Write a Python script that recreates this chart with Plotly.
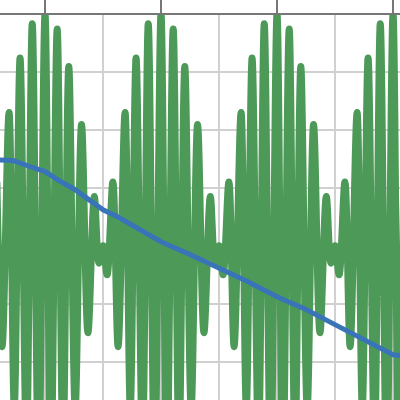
import plotly.graph_objects as go

# green signal: extrema (x in grid units, y in grid units)
sig_x = [-0.83, -0.74, -0.62, -0.53, -0.43, -0.32, -0.22, -0.11,
         0.0, 0.1, 0.21, 0.31, 0.41, 0.52, 0.63, 0.74, 0.85, 0.93, 1.0, 1.07,
         1.17, 1.26, 1.38, 1.47, 1.57, 1.68, 1.78, 1.89,
         2.0, 2.1, 2.21, 2.31, 2.41, 2.52, 2.63, 2.74, 2.85, 2.93, 3.0, 3.07,
         3.17, 3.26, 3.38, 3.47, 3.57, 3.68, 3.78, 3.89,
         4.0, 4.1, 4.21, 4.31, 4.41, 4.52, 4.63, 4.74, 4.85, 4.93, 5.0, 5.07,
         5.17, 5.26, 5.38, 5.47, 5.57, 5.68, 5.78, 5.89,
         6.0, 6.1, 6.21]
sig_y = [1.1, -1.74, 2.3, -2.8, 3.24, -3.5, 3.83, -3.95,
         4.0, -3.95, 3.74, -3.5, 3.09, -2.8, 2.09, -1.5, 0.85, -0.3, 0.0, -0.5,
         1.1, -1.74, 2.3, -2.8, 3.24, -3.5, 3.83, -3.95,
         4.0, -3.95, 3.74, -3.5, 3.09, -2.8, 2.09, -1.5, 0.85, -0.3, 0.0, -0.5,
         1.1, -1.74, 2.3, -2.8, 3.24, -3.5, 3.83, -3.95,
         4.0, -3.95, 3.74, -3.5, 3.09, -2.8, 2.09, -1.5, 0.85, -0.3, 0.0, -0.5,
         1.1, -1.74, 2.3, -2.8, 3.24, -3.5, 3.83, -3.95,
         4.0, -3.95, 3.74]

# blue trend line
trend_x = [-0.8, -0.55, -0.3, 0.0, 0.25, 0.5, 0.75, 1.0, 1.25, 1.5, 1.75, 2.0,
           2.5, 3.0, 3.5, 4.0, 4.5, 5.0, 5.5, 6.0, 6.2]
trend_y = [1.48, 1.47, 1.38, 1.28, 1.12, 0.98, 0.8, 0.62, 0.5, 0.36, 0.22, 0.07,
           -0.15, -0.38, -0.62, -0.88, -1.1, -1.36, -1.62, -1.88, -1.9]

fig = go.Figure()
fig.add_trace(go.Scatter(x=sig_x, y=sig_y, mode='lines',
                         line=dict(color='#4d9a58', width=7, shape='spline', smoothing=1.0)))
fig.add_trace(go.Scatter(x=trend_x, y=trend_y, mode='lines',
                         line=dict(color='#3a74b8', width=5)))

fig.update_layout(
    width=400, height=400,
    margin=dict(l=0, r=0, t=15, b=0),
    showlegend=False,
    plot_bgcolor='white', paper_bgcolor='white',
    xaxis=dict(range=[-0.776, 6.12], side='top', dtick=2, tick0=0,
               showticklabels=False, ticks='outside', ticklen=15, tickwidth=2,
               tickcolor='#777777', showline=True, linecolor='#777777', linewidth=2,
               showgrid=True, gridcolor='#d0d0d0', gridwidth=1.5, zeroline=False,
               minor=dict(dtick=1, tick0=0, showgrid=True, gridcolor='#d0d0d0', gridwidth=1.5)),
    yaxis=dict(range=[-2.66, 3.98], dtick=1, tick0=0, showticklabels=False,
               showgrid=True, gridcolor='#d0d0d0', gridwidth=1.5,
               zeroline=True, zerolinecolor='black', zerolinewidth=2),
)

fig.write_html("out.html", config={'displayModeBar': False},
               post_script="document.body.style.margin='0';")
